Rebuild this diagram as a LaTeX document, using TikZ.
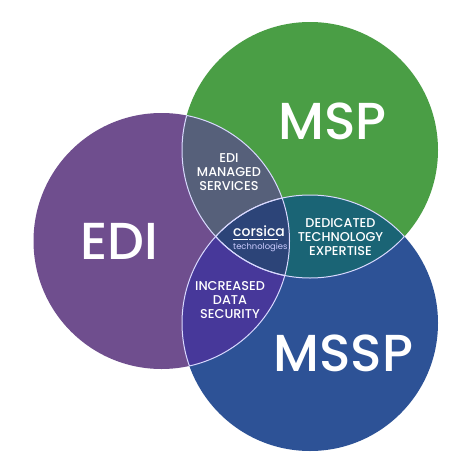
\documentclass[tikz,border=0pt]{standalone}
\usepackage{fontspec}
\setmainfont{Poppins}
\newfontfamily\midfont{Poppins Medium}
\newcommand{\circr}{128}
\definecolor{ediPurple}{HTML}{6F4E8E}
\definecolor{mspGreen}{HTML}{4A9E45}
\definecolor{msspBlue}{HTML}{2D5296}
\definecolor{ediMsp}{HTML}{56607A}
\definecolor{mspMssp}{HTML}{1A6475}
\definecolor{ediMssp}{HTML}{47389A}
\definecolor{coreBlue}{HTML}{2C4478}
\tikzset{
  % --- text ---
  bigname/.style   = {text=white, font=\fontsize{52}{52}\midfont, inner sep=0pt},
  overlap/.style   = {text=white, align=center, inner sep=0pt,
                      font=\fontsize{12.8}{14.4}\midfont},
  logoname/.style  = {text=white, inner sep=0pt, anchor=base west, font=\fontsize{14}{14}\midfont},
  logosub/.style   = {text=white!80!blue, inner sep=0pt, anchor=base west, font=\fontsize{8.4}{10}\selectfont},
  % --- lines ---
  rim/.style       = {draw=white!85!blue, line width=1pt},
  logorule/.style  = {draw=white, line width=0.8pt},
}
\begin{document}
\begin{tikzpicture}[x=1pt, y=-1pt]
  \useasboundingbox (0,0) rectangle (474,474);
  \fill[white] (0,0) rectangle (474,474);

  % ===================================================================
  %  CIRCLES
  % ===================================================================
  \coordinate (edi)  at (161.5,241);
  \coordinate (msp)  at (310,150);
  \coordinate (mssp) at (310,323);

  \fill[ediPurple] (edi)  circle[radius=\circr];
  \fill[mspGreen]  (msp)  circle[radius=\circr];
  \fill[msspBlue]  (mssp) circle[radius=\circr];

  % ===================================================================
  %  OVERLAPS
  % ===================================================================
  \begin{scope}
    \clip (edi) circle[radius=\circr];
    \fill[ediMsp]  (msp)  circle[radius=\circr];
    \fill[ediMssp] (mssp) circle[radius=\circr];
  \end{scope}
  \begin{scope}
    \clip (msp) circle[radius=\circr];
    \fill[mspMssp] (mssp) circle[radius=\circr];
    \clip (mssp) circle[radius=\circr];
    \fill[coreBlue] (edi) circle[radius=\circr];
  \end{scope}

  % --- rims, only where a circle runs inside another ---
  \begin{scope}
    \clip (msp) circle[radius=\circr] (mssp) circle[radius=\circr];
    \draw[rim] (edi) circle[radius=\circr];
  \end{scope}
  \begin{scope}
    \clip (edi) circle[radius=\circr];
    \draw[rim] (msp) circle[radius=\circr];
    \draw[rim] (mssp) circle[radius=\circr];
  \end{scope}
  \begin{scope}
    \clip (msp) circle[radius=\circr];
    \draw[rim] (mssp) circle[radius=\circr];
  \end{scope}
  \begin{scope}
    \clip (mssp) circle[radius=\circr];
    \draw[rim] (msp) circle[radius=\circr];
  \end{scope}

  % ===================================================================
  %  LABELS
  % ===================================================================
  \node[bigname] (lmsp)  at (332.5,121) {MSP};
  \node[bigname] (ledi)  at (119.5,241) {EDI};
  \node[bigname] (lmssp) at (343.5,353) {MSSP};

  \node[overlap] (lservices) at (229,172) {EDI\\MANAGED\\SERVICES};
  \node[overlap] (lexpert)   at (340.5,237) {DEDICATED\\TECHNOLOGY\\EXPERTISE};
  \node[overlap] (lsecure)   at (230,300) {INCREASED\\DATA\\SECURITY};

  % --- logo ---
  \node[logoname] (lcorsica) at (233,236) {corsica};
  \node[logosub]  (ltech)    at (233,249) {technologies};
  \draw[logorule] (233,239) -- (248,239);
  \draw[logorule] (249,239) -- (263,239);
  \draw[logorule] (264,239) -- (278,239);
\end{tikzpicture}
\end{document}
